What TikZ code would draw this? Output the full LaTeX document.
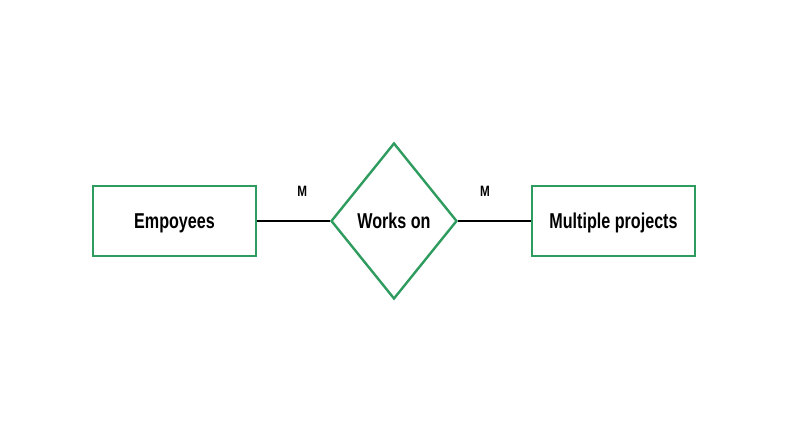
\documentclass[tikz,border=0pt]{standalone}
\usepackage{fontspec}
\setmainfont{Liberation Sans}
\usetikzlibrary{shapes.geometric}
\definecolor{ergreen}{HTML}{2E9C5E}

\begin{document}
\begin{tikzpicture}[x=1pt, y=1pt,
  entity/.style={draw=ergreen, line width=2.4pt, minimum width=163pt, minimum height=70pt, inner sep=0pt, text height=15.5pt, text depth=0pt, font=\fontsize{21.5}{24}\bfseries},
  relation/.style={diamond, draw=ergreen, line width=2.4pt, minimum width=126pt, minimum height=156pt, inner sep=0pt, text height=15.5pt, text depth=0pt, font=\fontsize{21.5}{24}\bfseries},
  card/.style={font=\fontsize{15}{16}\bfseries, inner sep=0pt, text height=10.7pt, text depth=0pt}]
\useasboundingbox (0,0) rectangle (788,443);
%\draw[help lines, color=gray!30, dashed] (0,0) grid[step=50] (788,443);
\node[entity] (emp) at (174.5,222) {\scalebox{0.75}[1]{Empoyees}};
\node[relation] (works) at (394,222) {\scalebox{0.75}[1]{Works on}};
\node[entity] (proj) at (613.5,222) {\scalebox{0.75}[1]{Multiple projects}};
\draw[line width=2pt] (emp.east) -- node[card, pos=0.62, yshift=30pt] {\scalebox{0.78}[1]{M}} (works.west);
\draw[line width=2pt] (works.east) -- node[card, pos=0.37, yshift=30pt] {\scalebox{0.78}[1]{M}} (proj.west);
\end{tikzpicture}
\end{document}
